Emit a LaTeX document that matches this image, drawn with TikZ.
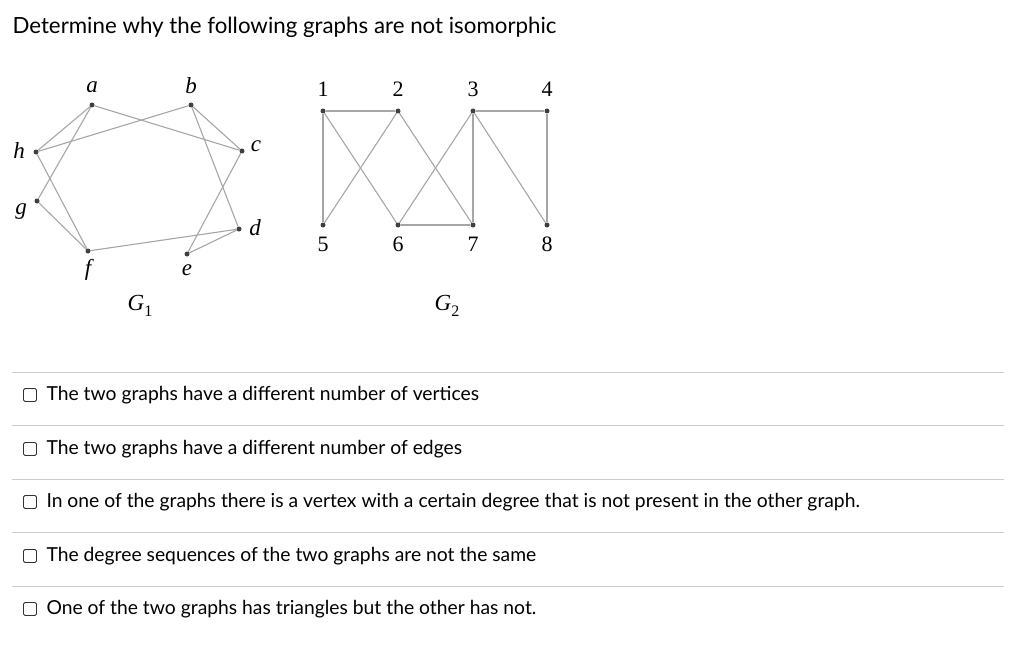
\documentclass[tikz,border=0pt]{standalone}
\usepackage{fontspec}
\newfontfamily\lato{Lato}
\newfontfamily\tms{Liberation Serif}
\begin{document}
\begin{tikzpicture}[x=1pt,y=-1pt,
  v/.style={circle,fill=black!75,inner sep=0pt,minimum size=5pt},
  e/.style={draw=black!35,line width=1.1pt},
  lbl/.style={font=\tms\fontsize{22}{24}\selectfont},
  ilbl/.style={font=\tms\itshape\fontsize{23}{24}\selectfont},
  opt/.style={anchor=west,font=\lato\fontsize{19.3}{22}\selectfont},
  box/.style={draw=black!80,rounded corners=1.5pt,minimum size=13pt,inner sep=0pt,line width=0.9pt},
  sep/.style={draw=black!20,line width=0.8pt}]
\useasboundingbox (0,0) rectangle (1024,650);
\node[anchor=west,font=\lato\fontsize{22.3}{26}\selectfont] (title) at (9,27) {Determine why the following graphs are not isomorphic};
% G1
\node[v] (a) at (92,105) {}; \node[ilbl] at (92,87) {a};
\node[v] (b) at (191,105) {}; \node[ilbl] at (191,86) {b};
\node[v] (c) at (242,151) {}; \node[ilbl] at (256,146) {c};
\node[v] (d) at (239,229) {}; \node[ilbl] at (255,228) {d};
\node[v] (ee) at (187,254) {}; \node[ilbl] at (187,270) {e};
\node[v] (f) at (88,251) {}; \node[ilbl] at (88,270) {f};
\node[v] (g) at (37,201) {}; \node[ilbl] at (21,212) {g};
\node[v] (h) at (36,152) {}; \node[ilbl] at (19,151) {h};
\foreach \p/\q in {a/h,a/g,a/c,b/h,b/c,b/d,c/ee,d/ee,d/f,h/f,g/f} \draw[e] (\p) -- (\q);
\node[ilbl] (G1) at (140,306) {G\raisebox{-0.25em}{\fontsize{16}{18}\selectfont\upshape 1}};
% G2
\foreach \n/\x/\y in {1/323/111,2/398/111,3/473/111,4/547/111,5/323/225,6/398/225,7/473/225,8/547/225}
  \node[v] (n\n) at (\x,\y) {};
\foreach \n in {1,2,3,4} \node[lbl] at ([yshift=22]n\n) {\n};
\foreach \n in {5,6,7,8} \node[lbl] at ([yshift=-19]n\n) {\n};
\foreach \p/\q in {1/2,1/5,1/6,2/5,2/7,3/4,3/6,3/7,3/8,4/8,6/7} \draw[e] (n\p) -- (n\q);
\node[ilbl] (G2) at (447,306) {G\raisebox{-0.25em}{\fontsize{16}{18}\selectfont\upshape 2}};
% options
\foreach \y in {372,425,479,532,586} \draw[sep] (12,\y) -- (1004,\y);
\foreach \i/\y/\t in {1/395/{The two graphs have a different number of vertices},
  2/449/{The two graphs have a different number of edges},
  3/502/{In one of the graphs there is a vertex with a certain degree that is not present in the other graph.},
  4/556/{The degree sequences of the two graphs are not the same},
  5/609/{One of the two graphs has triangles but the other has not.}}{
  \node[box] (b\i) at (30,\y) {};
  \node[opt] (t\i) at (43,\y) {\t};
}
\end{tikzpicture}
\end{document}
